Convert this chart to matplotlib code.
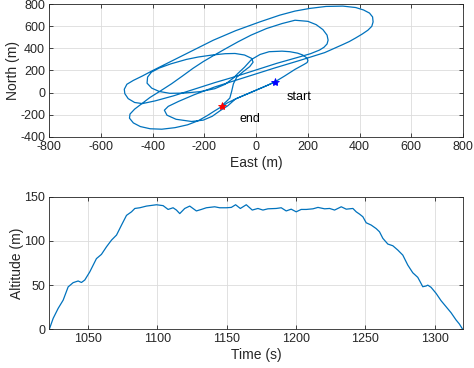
import numpy as np
import matplotlib.pyplot as plt

plt.rcParams['font.family'] = ['Liberation Sans', 'DejaVu Sans']
plt.rcParams['axes.unicode_minus'] = False

# ground track, metres (east, north)
east = [72, 40, 0, -40, -80, -110, -134, -160, -190, -224, -265, -314, -365, -410, -448, -475, -490, -488,
        -470, -445, -411, -370, -327, -285, -244, -205, -165, -120, -70, -20, 40, 100, 150, 200, 232, 258, 274,
        278, 274, 262, 245, 210, 160, 80, 0, -80, -160, -240, -320, -390, -440, -470, -495, -508, -510, -500,
        -475, -440, -398, -340, -282, -220, -166, -80, 14, 91, 150, 207, 270, 335, 385, 415, 438, 450, 452,
        447, 432, 410, 385, 360, 335, 265, 170, 72, -40, -160, -240, -300, -340, -355, -345, -310, -250, -205,
        -170, -140, -110, -80, -40, 0, 40, 72, 110, 150, 185, 197, 200, 195, 180, 160, 130, 100, 50, 15, -18,
        -45, -70, -89, -120, -160, -218, -280, -334, -375, -404, -422, -420, -405, -375, -330, -270, -224,
        -170, -120, -82, -45, -18, -12, -25, -50, -75, -88, -95, -102, -115, -134]
north = [96, 62, 22, -18, -58, -92, -128, -165, -210, -255, -292, -318, -332, -328, -308, -275, -232, -195,
         -150, -105, -45, 15, 80, 150, 220, 280, 335, 395, 460, 520, 580, 625, 655, 645, 615, 570, 520,
         475, 440, 410, 385, 352, 318, 265, 205, 145, 90, 30, -30, -75, -100, -90, -55, -10, 30, 75,
         110, 150, 202, 270, 338, 410, 474, 560, 640, 701, 738, 762, 780, 783, 770, 748, 720, 685, 640,
         600, 565, 530, 495, 462, 435, 362, 292, 223, 140, 51, -20, -80, -125, -160, -205, -242, -262, -250,
         -215, -165, -120, -58, -18, 22, 62, 96, 150, 210, 255, 272, 290, 315, 340, 357, 370, 375, 370, 345,
         300, 230, 175, 130, 75, 35, 8, -5, -7, 10, 40, 85, 140, 185, 222, 260, 300, 322,
         340, 352, 354, 340, 310, 275, 235, 190, 140, 80, 10, -50, -80, -120]

# altitude profile
t = [1022, 1024.8, 1028.4, 1032, 1035.6, 1039.2, 1042.8, 1045.2, 1047.6, 1051.2, 1056, 1059.6, 1063.3,
     1066.9, 1070.5, 1074.1, 1077.7, 1081.3, 1083.7, 1087.3, 1092.1, 1099.3, 1104.1, 1107.7, 1111.3, 1113.7,
     1116.1, 1119.7, 1123.3, 1128.1, 1131.7, 1135.3, 1141.3, 1144.9, 1149.7, 1153.3, 1156.4, 1159.8, 1164.1,
     1168.4, 1172.5, 1176.1, 1179.7, 1185.7, 1189.3, 1192.9, 1196.5, 1200.1, 1203.7, 1207.4, 1212.2, 1215.8,
     1220.6, 1224.2, 1227.8, 1232.6, 1236.2, 1241, 1243.4, 1245.8, 1248.2, 1250.6, 1254.2, 1257.8, 1260.2,
     1262.6, 1266.2, 1269.8, 1273.4, 1277, 1280.6, 1284.2, 1287.8, 1289.5, 1291.4, 1293.8, 1295, 1297.4,
     1301, 1304.6, 1308.2, 1311.8, 1315.4, 1317.8, 1320.2]
alt = [0, 12.4, 23.7, 33, 48, 52.8, 54.7, 53, 55.8, 65, 80, 84.8, 93.5,
       101, 106.7, 118, 129, 133, 136.8, 137.6, 139.5, 141, 140, 135.7, 137.6, 135,
       131, 136.8, 139.5, 134, 135.7, 137.6, 138.7, 137.6, 137.6, 138, 141, 136.8, 141,
       135, 136.8, 135, 136.4, 136.8, 137.6, 134, 136, 133, 135.7, 135.7, 136.4, 138,
       136.4, 136.8, 135, 138.7, 136, 136.8, 133, 130.4, 127.4, 120.6, 118, 114, 110.4,
       103, 96.5, 94.6, 89.7, 84, 72.7, 64, 58.8, 53.9, 48.2, 49, 50, 47.5,
       40.7, 32.4, 25.6, 18.8, 10.6, 6, 0]

blue = '#0072BD'
axcol = '#262626'

def matlab_axes(ax):
    ax.grid(True, color='#dcdcdc', linewidth=0.6)
    ax.set_axisbelow(True)
    ax.tick_params(direction='in', length=3, width=0.6, colors=axcol, labelsize=9,
                   top=True, right=True, pad=3)
    for s in ax.spines.values():
        s.set_color(axcol)
        s.set_linewidth(0.6)

fig = plt.figure(figsize=(4.74, 3.68), dpi=100)

ax1 = fig.add_axes([0.104, 0.6285, 0.873, 0.360])
ax1.plot(east, north, color=blue, linewidth=0.9)
ax1.plot(east[0], north[0], '*', color='blue', markersize=6, markeredgewidth=0.6)
ax1.plot(east[-1], north[-1], '*', color='red', markersize=6, markeredgewidth=0.6)
ax1.text(118, -40, 'start', fontsize=9, va='center', ha='left')
ax1.text(-63, -242, 'end', fontsize=9, va='center', ha='left')
ax1.set_xlim(-800, 800)
ax1.set_ylim(-400, 800)
ax1.set_xticks(np.arange(-800, 801, 200))
ax1.set_yticks(np.arange(-400, 801, 200))
ax1.set_xlabel('East (m)', fontsize=10, color=axcol, labelpad=2)
ax1.set_ylabel('North (m)', fontsize=10, color=axcol, labelpad=0)
matlab_axes(ax1)

ax2 = fig.add_axes([0.104, 0.1052, 0.873, 0.360])
ax2.plot(t, alt, color=blue, linewidth=0.9)
ax2.set_xlim(1022, 1320.5)
ax2.set_ylim(0, 150)
ax2.set_xticks(np.arange(1050, 1301, 50))
ax2.set_yticks(np.arange(0, 151, 50))
ax2.set_xlabel('Time (s)', fontsize=10, color=axcol, labelpad=2)
ax2.set_ylabel('Altitude (m)', fontsize=10, color=axcol, labelpad=0)
matlab_axes(ax2)

fig.savefig('out.png', dpi=100)
